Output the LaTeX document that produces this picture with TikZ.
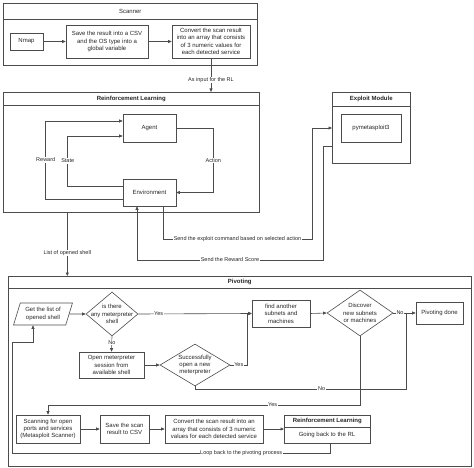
\documentclass[tikz,border=0pt]{standalone}
\usepackage{fontspec}
\setmainfont{Liberation Sans}
\usetikzlibrary{arrows.meta,shapes.geometric}
\begin{document}
\begin{tikzpicture}[x=1pt,y=-1pt,
  every node/.style={font=\fontsize{6}{7.4}\selectfont, text=black!85},
  box/.style={draw=black!70, line width=0.6pt, align=center, inner sep=1pt},
  cont/.style={draw=black!70, line width=0.6pt, anchor=north west, inner sep=0pt},
  band/.style={draw=black!70, line width=0.6pt, anchor=north west, inner sep=0pt, align=center},
  dia/.style={draw=black!70, line width=0.6pt, diamond, inner sep=0pt},
  conn/.style={draw=black!70, line width=0.6pt},
  arr/.style={conn, -{Triangle[length=3.5pt,width=3pt]}},
  lbl/.style={fill=white, inner sep=0.6pt, font=\fontsize{5.5}{6.5}\selectfont},
  dtext/.style={align=center, inner sep=0pt},
]
\useasboundingbox (0,0) rectangle (474,468);

% ---------- Scanner ----------
\node[cont, minimum width=254, minimum height=62] (sc) at (3,3) {};
\node[band, minimum width=254, minimum height=16] (scT) at (3,3) {Scanner};
\node[box, minimum width=33, minimum height=17] (nmap) at (26.5,41.5) {Nmap};
\node[box, minimum width=82, minimum height=33] (save) at (107,41.5) {Save the result into a CSV\\and the OS type into a\\global variable};
\node[box, minimum width=78, minimum height=33] (cv) at (211,41.5) {Convert the scan result\\into an array that consists\\of 3 numeric values for\\each detected service};
\draw[arr] (nmap) -- (save);
\draw[arr] (save) -- (cv);

% ---------- Reinforcement Learning ----------
\node[cont, minimum width=256, minimum height=120] (rl) at (3,92) {};
\node[band, minimum width=256, minimum height=13, font=\bfseries\fontsize{6}{7.4}\selectfont] (rlT) at (3,92) {Reinforcement Learning};
\node[box, minimum width=53, minimum height=28] (agent) at (149.5,128) {Agent};
\node[box, minimum width=53, minimum height=27] (env) at (149.5,192.5) {Environment};
\draw[arr] (cv.south) -- node[lbl,pos=0.65]{As input for the RL} (cv.south |- rl.north);
\draw[arr] ([yshift=-6.5pt]env.west) -- ++(-77,0) |- node[lbl,pos=0.25]{Reward} ([yshift=7pt]agent.west);
\draw[arr] ([yshift=6.5pt]env.west) -- ++(-55,0) |- node[lbl,pos=0.25]{State} ([yshift=-8pt]agent.west);
\draw[arr] (agent.east) -- ++(37,0) |- node[lbl,pos=0.25]{Action} (env.east);

% ---------- Exploit Module ----------
\node[cont, minimum width=78, minimum height=71] (expl) at (332,92) {};
\node[band, minimum width=78, minimum height=14, font=\bfseries\fontsize{6}{7.4}\selectfont] (explT) at (332,92) {Exploit Module};
\node[box, minimum width=60, minimum height=28] (pyms) at (371,128) {pymetasploit3};

\coordinate (c1) at (312,239);
\coordinate (c2) at (323,260);
\draw[arr] ([xshift=13.5pt]env.south) |- node[lbl,pos=0.75]{Send the exploit command based on selected action} (c1) |- (expl.west |- pyms.west);
\draw[arr] ([yshift=-18.5pt]expl.west) -| (c2) -| node[lbl,pos=0.25]{Send the Reward Score} ([xshift=-12.5pt]env.south);

% ---------- Pivoting ----------
\node[cont, minimum width=463, minimum height=190] (piv) at (8,276) {};
\node[band, minimum width=463, minimum height=12, font=\bfseries\fontsize{6}{7.4}\selectfont] (pivT) at (8,276) {Pivoting};
\draw[arr] ([xshift=-64pt]rl.south) -- node[lbl,pos=0.64]{List of opened shell} ([xshift=-64pt]rl.south |- piv.north);

\node[draw=black!70, line width=0.6pt, trapezium, trapezium left angle=68, trapezium right angle=112, trapezium stretches=true, minimum width=59, minimum height=22, inner sep=0pt, align=center] (gl) at (43,314) {Get the list of\\opened shell};
\node[dia, minimum width=52, minimum height=44, label={[dtext]center:is there\\any meterpreter\\shell}] (d1) at (112,314) {};
\node[box, minimum width=65, minimum height=26] (o1) at (111.5,365) {Open meterpreter\\session from\\available shell};
\node[dia, minimum width=70, minimum height=42, label={[dtext]center:Successfully\\open a new\\meterpreter}] (d2) at (195,365) {};
\node[box, minimum width=58, minimum height=27] (find) at (281,313.5) {find another\\subnets and\\machines};
\node[dia, minimum width=66, minimum height=46, label={[dtext]center:Discover\\new subnets\\or machines}] (d3) at (360,313) {};
\node[box, minimum width=47, minimum height=22] (done) at (439.5,313) {Pivoting done};

\draw[arr] (gl.east) -- (d1.west);
\draw[arr] (d1.east) -- node[lbl,pos=0.18]{Yes} (find.west);
\draw[arr] (d1.south) -- node[lbl,pos=0.4]{No} (o1.north);
\draw[arr] (o1.east) -- (d2.west);
\draw[arr] (d2.east) -- node[lbl,pos=0.5]{Yes} ++(17,0) |- (find.west);
\draw[arr] (find.east) -- (d3.west);
\draw[arr] (d3.east) -- node[lbl,pos=0.3]{No} (done.west);
\coordinate (c3) at (406,389);
\draw[conn] (d2.south) |- node[lbl,pos=0.8]{No} (c3) -- (c3 |- done.west);

% bottom row
\node[box, minimum width=64, minimum height=28] (scan) at (48,429) {Scanning for open\\ports and services\\(Metasploit Scanner)};
\node[box, minimum width=49, minimum height=28] (savecsv) at (124.5,429) {Save the scan\\result to CSV};
\node[box, minimum width=98, minimum height=28] (conv2) at (214,429) {Convert the scan result into an\\array that consists of 3 numeric\\values for each detected service};
\node[cont, minimum width=86, minimum height=28] (rl2) at (284,415) {};
\node[band, minimum width=86, minimum height=12, font=\bfseries\fontsize{6}{7.4}\selectfont] (rl2T) at (284,415) {Reinforcement Learning};
\node[inner sep=0pt] (rl2B) at (327,435) {Going back to the RL};

\coordinate (c4) at (48,405);
\draw[arr] (d3.south) |- node[lbl,pos=0.64]{Yes} (c4) -- (scan.north);
\draw[arr] (scan) -- (savecsv);
\draw[arr] (savecsv) -- (conv2);
\draw[arr] (conv2) -- (rl2.west |- conv2.east);

\coordinate (c5) at (12,453);
\coordinate (c6) at (12,342);
\draw[arr] ([xshift=3pt]rl2.south) |- node[lbl,pos=0.64]{Loop back to the pivoting process} (c5) -- (c6) -| ([xshift=-10pt]gl.south);
\end{tikzpicture}
\end{document}
